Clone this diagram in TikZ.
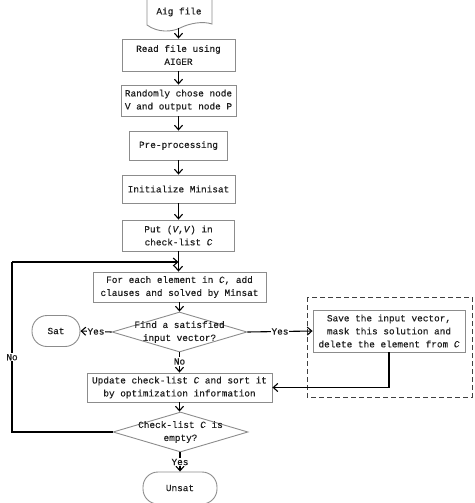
\documentclass[tikz,border=0pt]{standalone}
\usepackage{fontspec}
\setmainfont{Liberation Mono}[RawFeature={embolden=0.3}]
\usetikzlibrary{arrows.meta,shapes.geometric}
\definecolor{boxgray}{HTML}{8C8C8C}
\definecolor{txt}{HTML}{1E1E1E}
\tikzset{
  every node/.style={font=\fontsize{9.4}{13}\selectfont, text=txt},
  stepbox/.style={draw=boxgray, line width=0.9pt, rectangle, inner sep=0pt, align=center},
  decis/.style={draw=boxgray, line width=0.9pt, diamond, inner sep=0pt, minimum width=135pt, minimum height=40pt, aspect=3.4},
  termin/.style={draw=boxgray, line width=0.9pt, rectangle, rounded corners=15pt, inner sep=0pt},
  arr/.style={draw=black, line width=1.1pt, -{Straight Barb[length=4.5pt,width=8pt]}},
  lbl/.style={fill=white, inner sep=1pt, text=txt}
}
\begin{document}
\begin{tikzpicture}[x=1pt,y=-1pt]
\useasboundingbox (0,0) rectangle (474,503);
% Aig file document shape
\draw[draw=boxgray, line width=0.9pt] (147,-3) -- (147,25) .. controls (158,33) and (172,32) .. (180,28) .. controls (190,23) and (203,21) .. (212,24) -- (212,-3);
\node (aig) at (179,12) {Aig file};
\coordinate (aigbot) at (178.5,28);
\node[stepbox, minimum width=113pt, minimum height=32pt] (read) at (178.5,55) {Read file using\\AIGER};
\node[stepbox, minimum width=115pt, minimum height=31pt] (rand) at (178.5,100.5) {Randomly chose node\\V and output node P};
\node[stepbox, minimum width=98pt, minimum height=29pt] (pre) at (178.5,145.5) {Pre-processing};
\node[stepbox, minimum width=113pt, minimum height=28pt] (init) at (178.5,189) {Initialize Minisat};
\node[stepbox, minimum width=112pt, minimum height=31pt] (put) at (178.5,235.5) {Put (\textit{V},\textit{V}) in\\check-list \textit{C}};
\node[stepbox, minimum width=173pt, minimum height=30pt] (for) at (179.5,287) {For each element in \textit{C}, add\\clauses and solved by Minsat};
\node[decis] (find) at (179.5,332) {};
\node at (find) [align=center] {Find a satisfied\\input vector?};
\node[termin, minimum width=48pt, minimum height=31pt] (sat) at (56,331) {Sat};
\draw[draw=black!75, line width=1pt, dashed, dash pattern=on 5pt off 3pt] (307,297) rectangle (472,397);
\node[stepbox, minimum width=152pt, minimum height=42pt] (save) at (389,331) {Save the input vector,\\mask this solution and\\delete the element from \textit{C}};
\node[stepbox, minimum width=185pt, minimum height=29pt] (upd) at (179.5,387.5) {Update check-list \textit{C} and sort it\\by optimization information};
\node[decis] (check) at (180.5,432) {};
\node at (check) [align=center] {Check-list \textit{C} is\\empty?};
\node[termin, minimum width=74pt, minimum height=32pt] (unsat) at (180,488) {Unsat};
% connectors
\draw[arr] (aigbot) -- (read.north);
\draw[arr] (read.south) -- (rand.north);
\draw[arr] (rand.south) -- (pre.north);
\draw[arr] (pre.south) -- (init.north);
\draw[arr] (init.south) -- (put.north);
\draw[arr] (put.south) -- (put.south |- for.north);
\draw[arr] (find.south -| upd.north) -- (upd.north) node[lbl, pos=0.45] {No};
\draw[arr] (find.west) -- (sat.east) node[lbl, midway] {Yes};
\draw[arr] (find.east) -- (save.west) node[lbl, midway] {Yes};
\draw[arr] (save.south) |- (upd.east);
\draw[arr] (upd.south) -- (upd.south |- check.north);
\draw[arr] (check.south -| unsat.north) -- (unsat.north) node[lbl, midway] {Yes};
\coordinate (lc) at (12,262);
\draw[line width=1.1pt] (check.west) -| (lc) node[lbl, pos=0.72] {No};
\draw[arr] (lc) -- (lc -| put.south);
\draw[arr] (for.south -| find.north) -- (find.north);
\end{tikzpicture}
\end{document}
